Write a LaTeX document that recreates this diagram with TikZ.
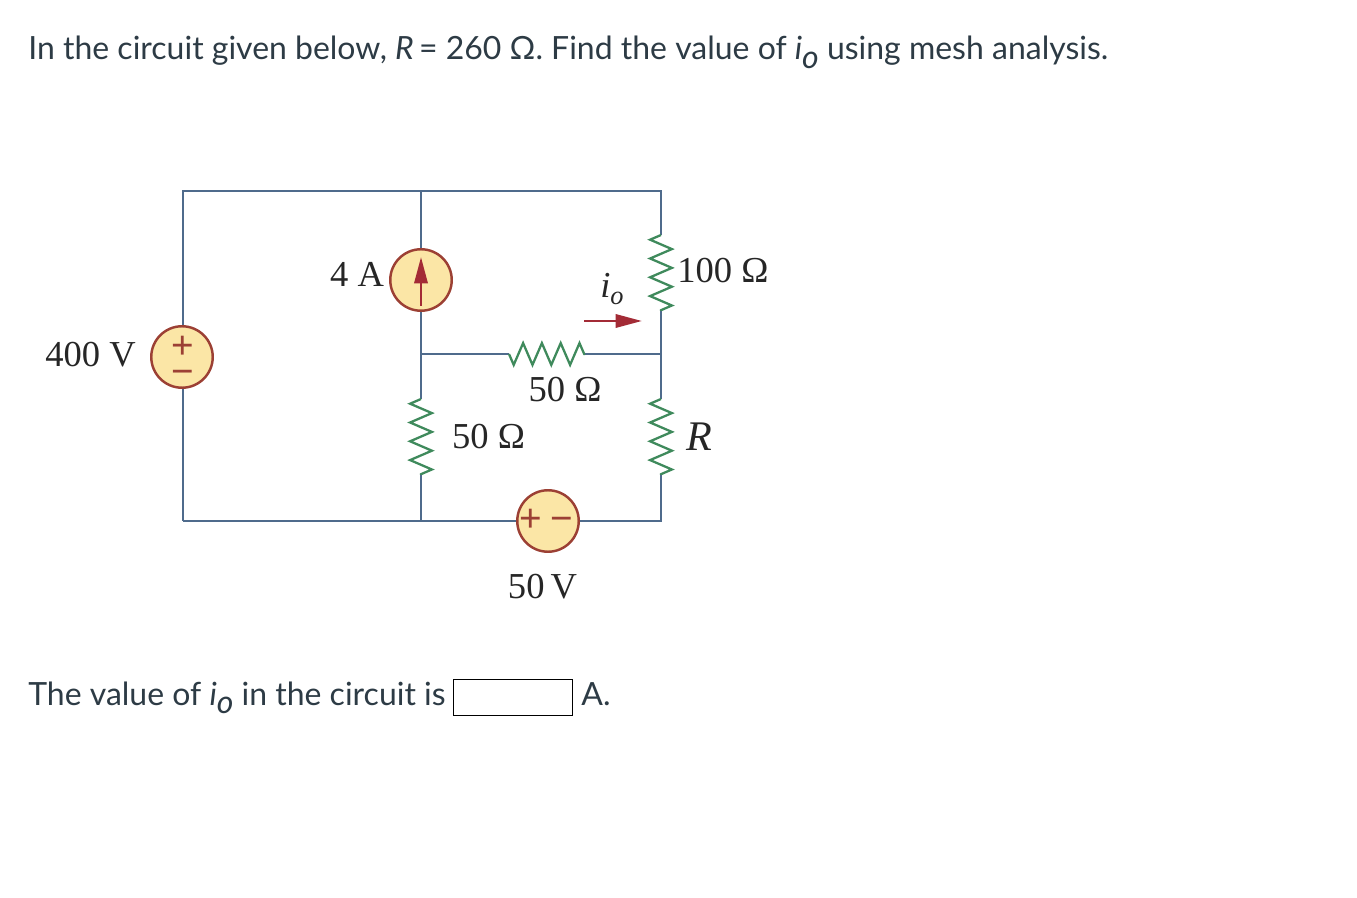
\documentclass[tikz,border=0pt]{standalone}
\usepackage{fontspec}
\setmainfont{Liberation Serif}
\newfontfamily\promptfont{Lato}
\newfontfamily\signfont{Liberation Sans}
\usetikzlibrary{arrows.meta}
\usetikzlibrary{decorations.pathmorphing}
\definecolor{wirecolor}{HTML}{4F6B8C}
\definecolor{rescolor}{HTML}{3F8A5C}
\definecolor{srcfill}{HTML}{FBE6A6}
\definecolor{srcedge}{HTML}{9C4034}
\definecolor{markred}{HTML}{A32B36}
\definecolor{prompttext}{HTML}{2D3B45}
\tikzset{
    wire/.style={draw=wirecolor, line width=1.1pt},
    resistor/.style={
        draw=rescolor, line width=1.3pt,
        decorate, decoration={zigzag, segment length=10.7pt, amplitude=6.2pt, mirror},
    },
    source/.style={
        circle, minimum size=35pt, inner sep=0pt,
        draw=srcedge, line width=1.4pt,
        fill=srcfill,
    },
    signmark/.style={
        inner sep=0pt, text=srcedge, align=center,
        font=\signfont\fontsize{22}{14.8}\selectfont,
    },
    flowarrow/.style={
        draw=markred, line width=1.6pt,
        -{Triangle[length=15pt, width=7.5pt]},
    },
    value/.style={
        inner sep=0pt, text=black!85,
        font=\fontsize{20.8}{20.8}\selectfont,
    },
    prompt/.style={
        anchor=base west, inner sep=0pt, text=prompttext,
        font=\promptfont\fontsize{18.2}{22}\selectfont,
    },
}
\newcommand{\iosub}{\textit{i}\raisebox{-0.55ex}{\textit{o}}}
\begin{document}
\begin{tikzpicture}[x=0.02cm, y=-0.02cm]
    \useasboundingbox (0,0) rectangle (1357,898);

    \coordinate (topleft) at(183,191);
    \coordinate (topmid) at(421,191);
    \coordinate (topright) at(661,191);
    \coordinate (midleft) at(421,354);
    \coordinate (midright) at(661,354);
    \coordinate (botleft) at(183,521);
    \coordinate (botmid) at(421,521);
    \coordinate (botright) at(661,521);
    \coordinate (rtopa) at(661,235);
    \coordinate (rtopb) at(661,311);
    \coordinate (rmida) at(509,354);
    \coordinate (rmidb) at(585,354);
    \coordinate (rlefta) at(421,399);
    \coordinate (rleftb) at(421,475);
    \coordinate (rrighta) at(661,399);
    \coordinate (rrightb) at(661,475);
    \coordinate (iotail) at(584,321);
    \coordinate (iohead) at(642,321);
    \coordinate (cstail) at(421,306);
    \coordinate (cshead) at(421,257);

    \draw[wire] (botleft) -- (topleft) -- (topright) -- (rtopa);
    \draw[wire] (rtopb) -- (midright) -- (rrighta);
    \draw[wire] (rrightb) -- (botright) -- (botleft);
    \draw[wire] (topmid) -- (midleft) -- (rlefta);
    \draw[wire] (rleftb) -- (botmid);
    \draw[wire] (midleft) -- (rmida);
    \draw[wire] (rmidb) -- (midright);

    \draw[resistor] (rtopa) -- (rtopb);
    \draw[resistor] (rmida) -- (rmidb);
    \draw[resistor] (rlefta) -- (rleftb);
    \draw[resistor] (rrighta) -- (rrightb);

    \node (vsource) at(182,357) [source] {};
    \node (csource) at(421,280) [source] {};
    \node (vsmall) at(548,521) [source] {};

    \node (vsigns) at(183,360) [signmark] {+\\−};
    \node (ssigns) at(546,520) [signmark] {+\hspace{4.7pt}−};

    \draw[flowarrow] (cstail) -- (cshead);
    \draw[flowarrow] (iotail) -- (iohead);

    \node (lblcs) at(357,274) [value] {4 A};
    \node (lbltop) at(723,271) [value] {100 Ω};
    \node (lblvs) at(90.5,355) [value] {400 V};
    \node (lblmid) at(565,390) [value] {50 Ω};
    \node (lblleft) at(488.5,437) [value] {50 Ω};
    \node (lblr) at(699,437) [value, font=\fontsize{24}{24}\selectfont] {\textit{R}};
    \node (lblsmall) at(542.5,587) [value] {50\,V};
    \node (lblio) at(612,289) [value] {\textit{i}\raisebox{-0.45ex}{\fontsize{15}{15}\selectfont\textit{o}}};

    \node (question) at(28,60) [prompt] {In the circuit given below, \textit{R}\,= 260 Ω. Find the value of \iosub\ using mesh analysis.};
    \node (answer) at(28,705) [prompt] {The value of \iosub\ in the circuit is};
    \node (answerbox) at(453,679) [
        rectangle, anchor=north west, inner sep=0pt,
        minimum width=67.5pt, minimum height=20.4pt,
        draw=black, line width=0.8pt,
    ] {};
    \node (unit) at(581,705) [prompt] {A.};
\end{tikzpicture}
\end{document}
